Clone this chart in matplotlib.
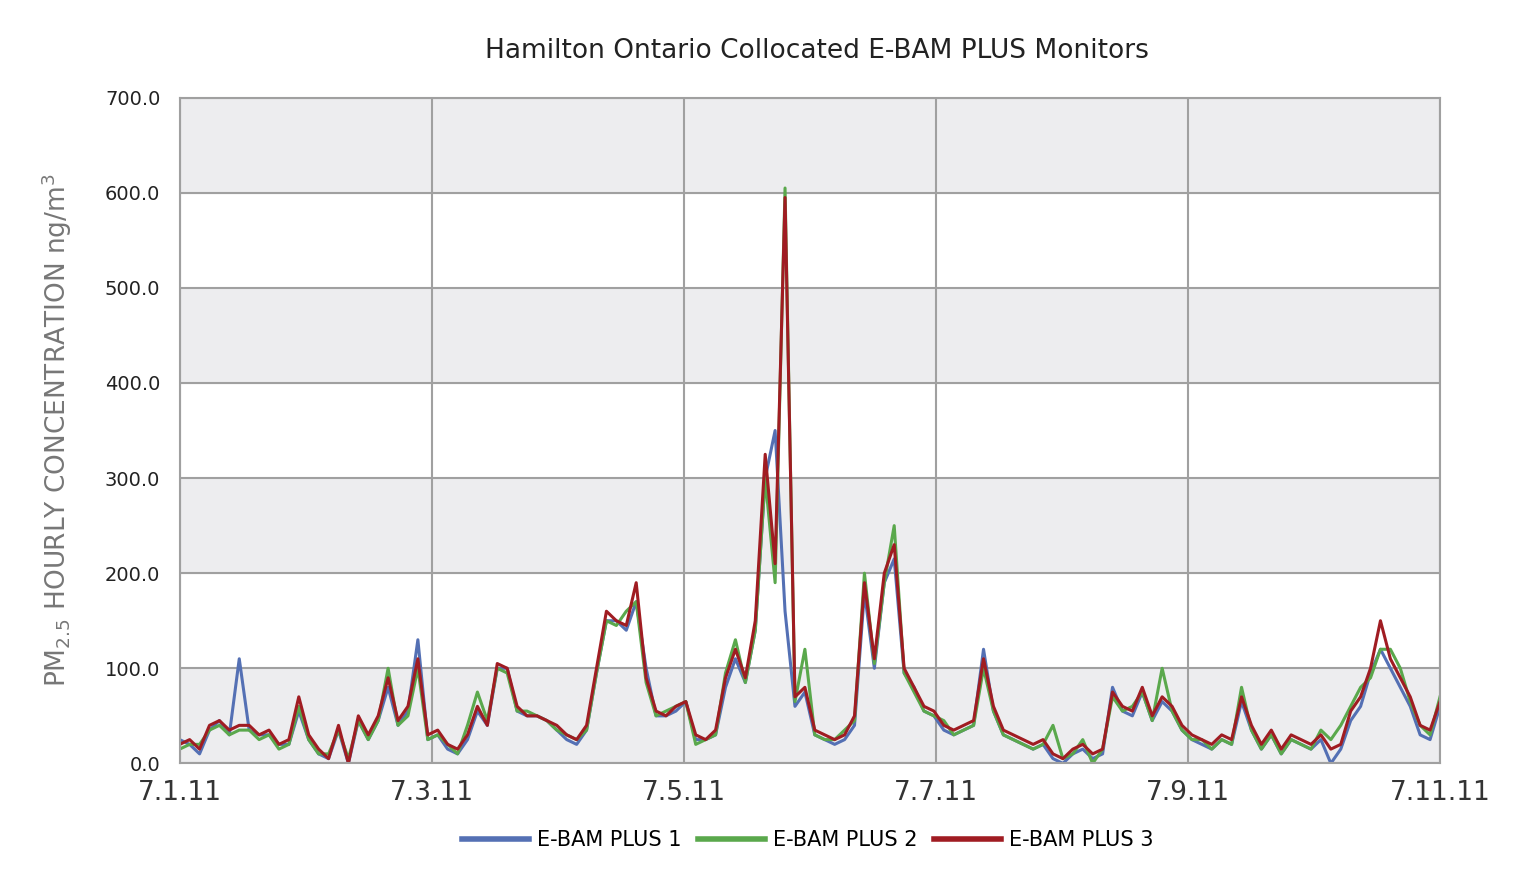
import numpy as np
import matplotlib.pyplot as plt
from matplotlib.lines import Line2D

plt.rcParams['font.family'] = ['Liberation Sans Narrow', 'DejaVu Sans']

# hourly PM2.5 readings, sampled roughly every 2 h over 7.1.11 - 7.11.11
plus3 = [20, 25, 15, 40, 45, 35, 40, 40, 30, 35, 20, 25, 70, 30, 15, 5, 40, 0, 50, 30,
         50, 90, 45, 60, 110, 30, 35, 20, 15, 30, 60, 40, 105, 100, 60, 50, 50, 45, 40, 30,
         25, 40, 100, 160, 150, 145, 190, 90, 55, 50, 60, 65, 30, 25, 35, 90, 120, 90, 150, 325,
         210, 595, 70, 80, 35, 30, 25, 30, 50, 190, 110, 200, 230, 100, 80, 60, 55, 40, 35, 40,
         45, 110, 60, 35, 30, 25, 20, 25, 10, 5, 15, 20, 10, 15, 75, 60, 55, 80, 50, 70,
         60, 40, 30, 25, 20, 30, 25, 70, 40, 20, 35, 15, 30, 25, 20, 30, 15, 20, 55, 70,
         100, 150, 110, 90, 70, 40, 35, 65]
plus1 = [25, 20, 10, 35, 45, 30, 110, 35, 30, 30, 20, 20, 55, 25, 10, 5, 35, 0, 45, 25,
         45, 80, 40, 55, 130, 25, 30, 15, 10, 25, 55, 40, 100, 100, 55, 50, 50, 45, 35, 25,
         20, 35, 95, 150, 150, 140, 170, 100, 50, 50, 55, 65, 25, 25, 30, 80, 110, 85, 140, 300,
         350, 160, 60, 75, 30, 25, 20, 25, 40, 180, 100, 190, 215, 95, 80, 55, 50, 35, 30, 35,
         40, 120, 55, 30, 25, 20, 15, 20, 5, 0, 10, 15, 5, 10, 80, 55, 50, 75, 45, 65,
         55, 35, 25, 20, 15, 25, 20, 65, 35, 15, 30, 10, 25, 20, 15, 25, 0, 15, 45, 60,
         95, 120, 100, 80, 60, 30, 25, 60]
plus2 = [15, 20, 20, 35, 40, 30, 35, 35, 25, 30, 15, 20, 60, 25, 10, 10, 35, 5, 45, 25,
         45, 100, 40, 50, 100, 25, 30, 20, 10, 40, 75, 45, 100, 95, 55, 55, 50, 45, 35, 30,
         25, 35, 95, 150, 145, 160, 170, 85, 50, 55, 60, 65, 20, 25, 30, 95, 130, 85, 140, 300,
         190, 605, 65, 120, 30, 25, 25, 35, 45, 200, 105, 190, 250, 95, 75, 55, 50, 45, 30, 35,
         40, 100, 55, 30, 25, 20, 15, 20, 40, 5, 10, 25, 0, 15, 70, 55, 60, 75, 45, 100,
         55, 35, 25, 25, 15, 25, 20, 80, 35, 15, 30, 10, 25, 20, 15, 35, 25, 40, 60, 80,
         90, 120, 120, 100, 65, 40, 30, 70]
tick_labels = ['7.1.11', '7.3.11', '7.5.11', '7.7.11', '7.9.11', '7.11.11']

days = np.linspace(0, 10, len(plus3))

fig = plt.figure(figsize=(15.36, 8.96), dpi=100)
ax = fig.add_axes([0.117, 0.148, 0.8205, 0.743])

for lo in [0, 200, 400, 600]:
    ax.axhspan(lo, lo + 100, color='#ededef', zorder=0)

colors = ['#5470b4', '#5aa84c', '#a01c22']
names = ['E-BAM PLUS 1', 'E-BAM PLUS 2', 'E-BAM PLUS 3']
for ys, c in zip([plus1, plus2, plus3], colors):
    ax.plot(days, ys, color=c, lw=2.2)

ax.set_xlim(0, 10)
ax.set_ylim(0, 700)
ax.set_xticks(np.arange(0, 11, 2))
ax.set_xticklabels(tick_labels, fontsize=19, color='#333333')
ax.set_yticks(np.arange(0, 701, 100))
ax.set_yticklabels(['%.1f' % v for v in np.arange(0, 701, 100)], fontsize=14, color='#222222')
ax.tick_params(axis='x', length=0, pad=12)
ax.tick_params(axis='y', length=0, pad=14)
ax.grid(True, color='#a0a0a0', lw=1.5)
ax.set_axisbelow(True)
for s in ax.spines.values():
    s.set_color('#a0a0a0')
    s.set_linewidth(1.5)

ax.set_ylabel('PM$_{2.5}$ HOURLY CONCENTRATION ng/m$^3$', fontsize=19, color='#777777', labelpad=22)
fig.text(0.532, 0.943, 'Hamilton Ontario Collocated E-BAM PLUS Monitors', ha='center',
         va='center', fontsize=19, color='#222222')
handles = [Line2D([], [], color=c, lw=4) for c in colors]
fig.legend(handles, names, loc='center', bbox_to_anchor=(0.526, 0.062), ncol=3, frameon=False,
           fontsize=15, handlelength=3.2, columnspacing=0.8, handletextpad=0.4)

fig.savefig('out.png', dpi=100)
